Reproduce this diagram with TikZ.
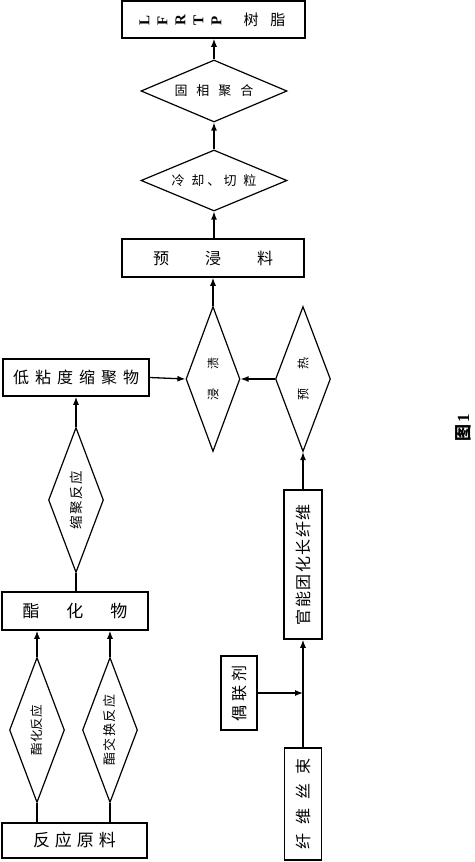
\documentclass[tikz,border=0pt]{standalone}
\usepackage{fontspec}
\usepackage{graphicx}
\setmainfont{Liberation Serif}
\newfontfamily\cjk{Noto Sans CJK SC}
\usetikzlibrary{shapes.geometric,arrows.meta}
\newcommand{\fsz}[1]{\fontsize{#1}{#1}\selectfont}
\tikzset{
  box/.style={draw, line width=1.5pt, inner sep=0pt, font=\cjk},
  dia/.style={draw, diamond, line width=1.2pt, inner sep=0pt, font=\cjk},
  tall/.style={dia, aspect=0.38, minimum width=55pt, minimum height=145pt},
  wide/.style={dia, aspect=2.4, minimum width=146pt, minimum height=61pt},
  arr/.style={line width=1.3pt, -{Latex[length=8pt,width=6pt]}},
  ln/.style={line width=1.3pt},
}
\begin{document}
\begin{tikzpicture}[x=1pt,y=-1pt]
\useasboundingbox (0,0) rectangle (474,862);

% left column
\node[box, minimum width=145pt, minimum height=35pt] (raw) at (74.5,840.5)
  {\fsz{17}反\hspace{5pt}应\hspace{5pt}原\hspace{5pt}料};
\node[tall] (d1) at (37,730)
  {\rotatebox{90}{\fsz{12.5}酯化反应}};
\node[tall] (d2) at (110,730)
  {\rotatebox{90}{\fsz{13}酯\hspace{1.5pt}交\hspace{1.5pt}换\hspace{1.5pt}反\hspace{1.5pt}应}};
\node[box, minimum width=146pt, minimum height=38pt] (ester) at (75,611)
  {\fsz{17}酯\hspace{27pt}化\hspace{27pt}物};
\node[tall] (d3) at (76,500)
  {\rotatebox{90}{\fsz{13.5}缩\hspace{1.5pt}聚\hspace{1.5pt}反\hspace{1.5pt}应}};
\node[box, minimum width=146pt, minimum height=37pt] (lowv) at (76,377.5)
  {\fsz{16}低\hspace{6pt}粘\hspace{6pt}度\hspace{6pt}缩\hspace{6pt}聚\hspace{6pt}物};

% fibre column
\node[box, minimum width=37pt, minimum height=112pt] (fiber) at (303,804)
  {\rotatebox{90}{\fsz{16}纤\hspace{9pt}维\hspace{9pt}丝\hspace{9pt}束}};
\node[box, minimum width=36pt, minimum height=74pt] (coup) at (239,693)
  {\rotatebox{90}{\fsz{16}偶\hspace{4pt}联\hspace{4pt}剂}};
\node[box, minimum width=38pt, minimum height=149pt] (func) at (303,564.5)
  {\rotatebox{90}{\fsz{16}官\hspace{1.5pt}能\hspace{1.5pt}团\hspace{1.5pt}化\hspace{1.5pt}长\hspace{1.5pt}纤\hspace{1.5pt}维}};
\node[tall] (heat) at (303,379)
  {\rotatebox{90}{\fsz{12}预\hspace{19pt}热}};
\node[tall, minimum width=54pt] (imp) at (213,379)
  {\rotatebox{90}{\fsz{12}浸\hspace{19pt}渍}};

% top column
\node[box, minimum width=182pt, minimum height=38pt] (pre) at (213,258)
  {\fsz{16}预\hspace{36pt}浸\hspace{36pt}料};
\node[wide] (cool) at (214,180.5)
  {\fsz{13}冷\hspace{7pt}却\hspace{3pt}、\hspace{3pt}切\hspace{7pt}粒};
\node[wide, minimum height=62pt] (solid) at (214,91)
  {\fsz{13}固\hspace{9pt}相\hspace{9pt}聚\hspace{9pt}合};
\node[box, minimum width=183pt, minimum height=37pt] (res) at (213.5,19.5)
  {\makebox[18pt]{\rotatebox{90}{\rmfamily\bfseries\fsz{15}L}}%
   \makebox[18pt]{\rotatebox{90}{\rmfamily\bfseries\fsz{15}F}}%
   \makebox[18pt]{\rotatebox{90}{\rmfamily\bfseries\fsz{15}R}}%
   \makebox[18pt]{\rotatebox{90}{\rmfamily\bfseries\fsz{15}T}}%
   \makebox[18pt]{\rotatebox{90}{\rmfamily\bfseries\fsz{15}P}}%
   \hspace{12pt}\makebox[27pt]{\fsz{15}树}\makebox[27pt]{\fsz{15}脂}};

\node (fig) at (463,428)
  {\rotatebox{90}{\fsz{17}{\cjk\bfseries 图}\hspace{2pt}{\bfseries 1}}};

% connectors
\draw[ln] (d1.south |- raw.north) -- (d1.south);
\draw[ln] (d2.south |- raw.north) -- (d2.south);
\draw[arr] (d1.north) -- (d1.north |- ester.south);
\draw[arr] (d2.north) -- (d2.north |- ester.south);
\draw[ln] (d3.south |- ester.north) -- (d3.south);
\draw[arr] (d3.north) -- (d3.north |- lowv.south);
\draw[arr] (lowv.east) -- (imp.west);
\draw[arr] (heat.west) -- (imp.east);
\draw[arr] (func.north) -- (heat.south);
\coordinate (j) at (coup.east -| fiber.north);
\draw[arr] (fiber.north) -- (func.south);
\draw[arr] (coup.east) -- (j);
\draw[arr] (imp.north) -- (imp.north |- pre.south);
\draw[arr] (cool.south |- pre.north) -- (cool.south);
\draw[arr] (cool.north) -- (solid.south);
\draw[arr] (solid.north) -- (solid.north |- res.south);
\end{tikzpicture}
\end{document}
